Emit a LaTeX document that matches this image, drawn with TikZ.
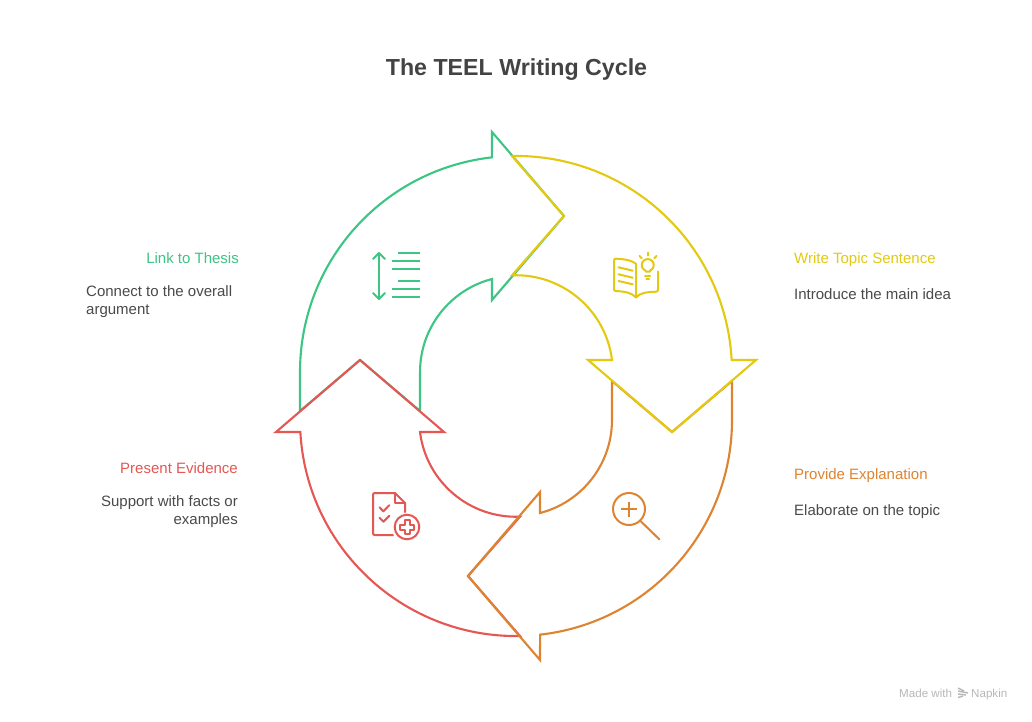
\documentclass[tikz,border=0pt]{standalone}
\usepackage{fontspec}
\setmainfont{Liberation Sans}
\definecolor{cgreen}{HTML}{3CC583}
\definecolor{cyellow}{HTML}{E3CA10}
\definecolor{corange}{HTML}{DE8431}
\definecolor{cred}{HTML}{E55753}
\definecolor{ctext}{HTML}{4A4A4A}
\definecolor{ctitle}{HTML}{434343}
\definecolor{cfoot}{HTML}{B8B8B8}
\tikzset{
  band/.style={line width=2.1pt,line join=miter,miter limit=10},
  icon/.style={line width=2pt,line cap=round,line join=round},
  head/.style={font=\fontsize{15}{17}\selectfont,inner sep=0pt},
  body/.style={font=\fontsize{15}{17}\selectfont,text=ctext,inner sep=0pt},
  foot/.style={font=\fontsize{11.6}{13}\selectfont,text=cfoot,inner sep=0pt,anchor=base west}
}
\begin{document}
\begin{tikzpicture}[x=1pt,y=1pt,yscale=-1]
\useasboundingbox (0,0) rectangle (1032,721);
\fill[white] (0,0) rectangle (1032,721);
% green
\draw[band,cgreen] (300,411) -- (300,372) arc[start angle=180,end angle=263.6,radius=216]
  -- (492,132) -- (564,216) -- (492,300) -- (492,279)
  arc[start angle=255.5,end angle=180,radius=96] -- (420,411) -- (360,360) -- cycle;
% red
\draw[band,cred] (520,636) arc[start angle=88.94,end angle=176.82,radius=216]
  -- (276,432) -- (360,360) -- (444,432) -- (420,432)
  arc[start angle=172.9,end angle=87.6,radius=96.7] -- (468,576) -- cycle;
% orange
\draw[band,corange] (732,381) -- (732,420) arc[start angle=0,end angle=83.6,radius=216]
  -- (540,660) -- (468,576) -- (540,492) -- (540,513)
  arc[start angle=75.5,end angle=0,radius=96] -- (612,381) -- (672,432) -- cycle;
% yellow
\draw[band,cyellow] (512,156) arc[start angle=-91.06,end angle=-3.18,radius=216]
  -- (756,360) -- (672,432) -- (588,360) -- (612,360)
  arc[start angle=-7.1,end angle=-92.4,radius=96.7] -- (564,216) -- cycle;
% link icon
\begin{scope}[icon,cgreen]
\draw (379,253) -- (379,299);
\draw (373,259) -- (379,253) -- (385,259);
\draw (373,293) -- (379,299) -- (385,293);
\draw[line cap=butt] (398,252.7) -- (420,252.7);
\draw[line cap=butt] (392,260.7) -- (420,260.7);
\draw[line cap=butt] (392,268.7) -- (420,268.7);
\draw[line cap=butt] (398,280.7) -- (420,280.7);
\draw[line cap=butt] (392,288.7) -- (420,288.7);
\draw[line cap=butt] (392,296.7) -- (420,296.7);
\end{scope}
% book icon
\begin{scope}[icon,cyellow]
\draw (636,297.5) -- (636,264) .. controls (632,260) and (622,258.8) .. (616,258.7)
  .. controls (614.5,258.7) and (614,259.5) .. (614,261) -- (614,289)
  .. controls (614,290.5) and (614.5,291) .. (616,291) .. controls (624,291.5) and (632,292.5) .. (636,297.5)
  .. controls (640,292.5) and (648,292) .. (656,291.7) .. controls (657.5,291.5) and (658,291) .. (658,289.5) -- (658,271.5);
\draw (618.5,267.3) -- (632.7,270.7);
\draw (618.5,274.3) -- (632.7,277.7);
\draw (618.5,281) -- (632.7,284.3);
\draw (645.5,271.5) -- (645.5,270.6) arc[start angle=112,end angle=428,radius=6] -- (650,271.5) -- cycle;
\draw (645.2,275.7) -- (650.2,275.7);
\draw (646.4,279.3) -- (649,279.3);
\draw (647.7,252.5) -- (647.7,255.5);
\draw (639.5,255.9) -- (641.6,258.2);
\draw (656.5,255.9) -- (654.4,258.2);
\end{scope}
% evidence icon
\begin{scope}[icon,cred]
\draw (393,535) -- (375,535) .. controls (373.5,535) and (373,534.5) .. (373,533) -- (373,495)
  .. controls (373,493.5) and (373.5,493) .. (375,493) -- (395,493) -- (405,503) -- (405,512);
\draw (395,493) -- (395,503) -- (405,503);
\draw (379.5,507.3) -- (383.4,511.3) -- (389.3,505.2);
\draw (379.5,517.7) -- (383.4,521.7) -- (389.3,515.8);
\draw (407,527) circle[radius=12.3];
\draw (404.5,520) -- (409.5,520) -- (409.5,524.5) -- (414,524.5) -- (414,529.5) -- (409.5,529.5) -- (409.5,534)
  -- (404.5,534) -- (404.5,529.5) -- (400,529.5) -- (400,524.5) -- (404.5,524.5) -- cycle;
\end{scope}
% magnifier icon
\begin{scope}[icon,corange]
\draw (629,509) circle[radius=16];
\draw[line cap=butt] (621.3,509) -- (636.7,509);
\draw[line cap=butt] (629,501.7) -- (629,516.7);
\draw (640.5,521) -- (659.3,539.3);
\end{scope}
% texts
\node[anchor=base,inner sep=0pt,text=ctitle,font=\fontsize{23.2}{28}\selectfont\bfseries] (title) at (516.5,75) {The TEEL Writing Cycle};
\node[head,text=cgreen,anchor=base east] (h1) at (239,263) {Link to Thesis};
\node[body,anchor=base west] (b1a) at (86,296) {Connect to the overall};
\node[body,anchor=base west] (b1b) at (86,314) {argument};
\node[head,text=cyellow,anchor=base west] (h2) at (794,263) {Write Topic Sentence};
\node[body,anchor=base west] (b2) at (794,299) {Introduce the main idea};
\node[head,text=cred,anchor=base east] (h3) at (238,473) {Present Evidence};
\node[body,anchor=base east] (b3a) at (238,506) {Support with facts or};
\node[body,anchor=base east] (b3b) at (238,524) {examples};
\node[head,text=corange,anchor=base west] (h4) at (794,479) {Provide Explanation};
\node[body,anchor=base west] (b4) at (794,515) {Elaborate on the topic};
% footer
\node[foot] (f1) at (899,697) {Made with};
\node[foot] (f2) at (971,697) {Napkin};
\begin{scope}[cfoot,line width=1.4pt]
\draw (958,688) -- (964,691);
\draw (958,691) -- (968,693);
\draw (958,694) -- (966,695);
\draw (958,697.5) -- (963,696);
\end{scope}
\end{tikzpicture}
\end{document}
